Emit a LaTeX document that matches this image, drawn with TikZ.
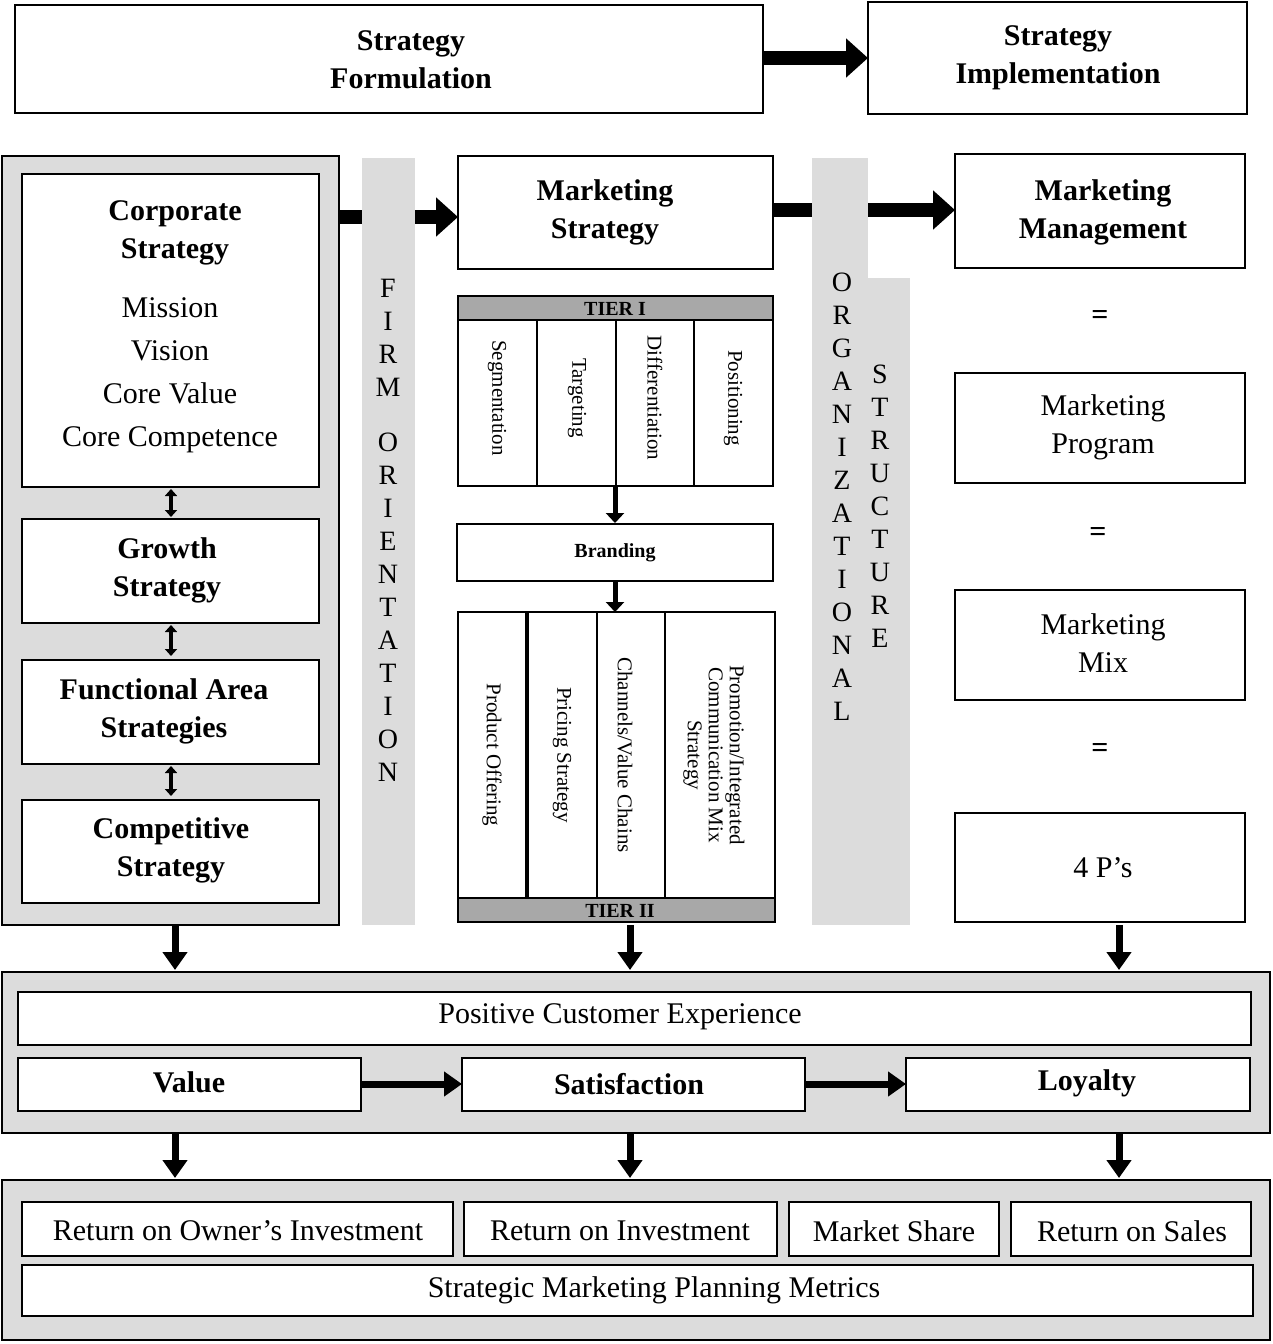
\documentclass[tikz,border=0pt]{standalone}
\usepackage{fontspec}
\setmainfont{Liberation Serif}
\usetikzlibrary{arrows.meta}
\definecolor{pgray}{HTML}{DCDCDC}
\definecolor{hgray}{HTML}{A8A8A8}
\tikzset{
  bx/.style={draw, line width=2.5pt, fill=white},
  panel/.style={draw, line width=2.5pt, fill=pgray},
  band/.style={fill=pgray, draw=none},
  arr/.style={line width=7pt, -{Triangle[length=18pt,width=24pt]}},
  smarr/.style={line width=5pt, -{Triangle[length=10pt,width=18pt]}},
  bigarr/.style={line width=14pt, -{Triangle[length=22pt,width=38pt]}},
  dbl/.style={line width=4pt, {Triangle[length=7pt,width=12pt]}-{Triangle[length=7pt,width=12pt]}},
  hd/.style={font=\fontsize{30}{38}\selectfont\bfseries, align=center},
  tx/.style={font=\fontsize{30}{38}\selectfont, align=center},
  sm/.style={font=\fontsize{21}{21}\selectfont, align=center},
  smb/.style={font=\fontsize{20}{20}\selectfont\bfseries, align=center},
  vl/.style={font=\fontsize{28}{33}\selectfont, align=center},
}
\begin{document}
\begin{tikzpicture}[x=1pt,y=-1pt]
\useasboundingbox (0,0) rectangle (1272,1344);
% top
\draw[bigarr] (763,58) -- (868,58);
\draw[bx] (15,5) rectangle (763,113);
\node[hd] (sf) at (411,60) {Strategy\\Formulation};
\draw[bx] (868,2) rectangle (1247,114);
\node[hd] (si) at (1058,58) {Strategy\\Implementation};
% horizontal arrows (under bands)
\coordinate (a1) at (339,217);
\coordinate (a2) at (458,217);
\draw[bigarr] (a1) -- (a2);
\coordinate (b1) at (773,210);
\coordinate (b2) at (955,210);
\draw[bigarr] (b1) -- (b2);
% bands
\fill[band] (362,158) rectangle (415,925);
\node[vl] (fo) at (388,530) {F\\I\\R\\M\\[22pt]O\\R\\I\\E\\N\\T\\A\\T\\I\\O\\N};
\fill[band] (812,158) rectangle (868,925);
\fill[band] (868,278) rectangle (910,925);
\node[vl] (org) at (842,497) {O\\R\\G\\A\\N\\I\\Z\\A\\T\\I\\O\\N\\A\\L};
\node[vl] (str) at (880,506) {S\\T\\R\\U\\C\\T\\U\\R\\E};
% left panel
\draw[panel] (2,156) rectangle (339,925);
\draw[bx] (22,174) rectangle (319,487);
\node[hd] (cs) at (175,233) {Corporate\\Strategy};
\node[font=\fontsize{30}{43}\selectfont, align=center] (cl) at (170,375) {Mission\\Vision\\Core Value\\Core Competence};
\draw[bx] (22,519) rectangle (319,623);
\node[hd] (gs) at (167,570) {Growth\\Strategy};
\draw[bx] (22,660) rectangle (319,764);
\node[hd] (fa) at (164,711) {Functional Area\\Strategies};
\draw[bx] (22,800) rectangle (319,903);
\node[hd] (cps) at (171,850) {Competitive\\Strategy};
\draw[dbl] (171,489) -- (171,517);
\draw[dbl] (171,625) -- (171,656);
\draw[dbl] (171,766) -- (171,796);
% marketing strategy
\draw[bx] (458,156) rectangle (773,269);
\node[hd] (ms) at (605,212) {Marketing\\Strategy};
% tier I
\draw[bx] (458,296) rectangle (773,486);
\draw[line width=2.5pt, fill=hgray] (458,296) rectangle (773,320);
\node[smb] (t1) at (615,309) {TIER I};
\foreach \x in {537,616,694} \draw[line width=2.5pt] (\x,320) -- (\x,486);
\node[sm, rotate=-90] (seg) at (497,398) {Segmentation};
\node[sm, rotate=-90] (tar) at (577,398) {Targeting};
\node[sm, rotate=-90] (dif) at (655,398) {Differentiation};
\node[sm, rotate=-90] (pos) at (733,398) {Positioning};
\draw[bx] (457,524) rectangle (773,581);
\node[smb] (br) at (615,553) {Branding};
\draw[smarr] (615,486) -- (615,523);
\draw[smarr] (615,581) -- (615,612);
% tier II
\draw[bx] (458,612) rectangle (775,922);
\draw[line width=2.5pt, fill=hgray] (458,898) rectangle (775,922);
\node[smb] (t2) at (620,911) {TIER II};
\draw[line width=4pt] (527,612) -- (527,898);
\foreach \x in {597,665} \draw[line width=2.5pt] (\x,612) -- (\x,898);
\node[sm, rotate=-90] (po) at (492,755) {Product Offering};
\node[sm, rotate=-90] (ps) at (562,755) {Pricing Strategy};
\node[sm, rotate=-90] (cv) at (625,755) {Channels/Value Chains};
\node[sm, rotate=-90] (pr) at (714,755) {Promotion/Integrated\\Communication Mix\\Strategy};
% right column
\draw[bx] (955,154) rectangle (1245,268);
\node[hd] (mm) at (1103,212) {Marketing\\Management};
\node[hd] (e1) at (1100,317) {=};
\draw[bx] (955,373) rectangle (1245,483);
\node[tx] (mp) at (1103,427) {Marketing\\Program};
\node[hd] (e2) at (1098,534) {=};
\draw[bx] (955,590) rectangle (1245,700);
\node[tx] (mx) at (1103,643) {Marketing\\Mix};
\node[hd] (e3) at (1100,750) {=};
\draw[bx] (955,813) rectangle (1245,922);
\node[tx] (fp) at (1103,868) {4 P’s};
% down arrows
\foreach \x in {175,630,1119} {
  \draw[arr] (\x,925) -- (\x,970);
  \draw[arr] (\x,1133) -- (\x,1178);
}
% middle panel
\draw[panel] (2,972) rectangle (1270,1133);
\draw[bx] (18,992) rectangle (1251,1045);
\node[tx] (pce) at (620,1017) {Positive Customer Experience};
\draw[arr] (361,1084) -- (462,1084);
\draw[arr] (805,1084) -- (906,1084);
\draw[bx] (18,1058) rectangle (361,1111);
\node[hd] (val) at (189,1082) {Value};
\draw[bx] (462,1058) rectangle (805,1111);
\node[hd] (sat) at (629,1084) {Satisfaction};
\draw[bx] (906,1058) rectangle (1250,1111);
\node[hd] (loy) at (1087,1083) {Loyalty};
% bottom panel
\draw[panel] (2,1180) rectangle (1270,1340);
\draw[bx] (22,1202) rectangle (453,1256);
\node[tx] (roi1) at (238,1231) {Return on Owner’s Investment};
\draw[bx] (464,1202) rectangle (777,1256);
\node[tx] (roi) at (620,1231) {Return on Investment};
\draw[bx] (789,1202) rectangle (999,1256);
\node[tx] (msh) at (894,1231) {Market Share};
\draw[bx] (1011,1202) rectangle (1251,1256);
\node[tx] (ros) at (1132,1231) {Return on Sales};
\draw[bx] (22,1265) rectangle (1253,1316);
\node[tx] (smp) at (654,1290) {Strategic Marketing Planning Metrics};
\end{tikzpicture}
\end{document}
